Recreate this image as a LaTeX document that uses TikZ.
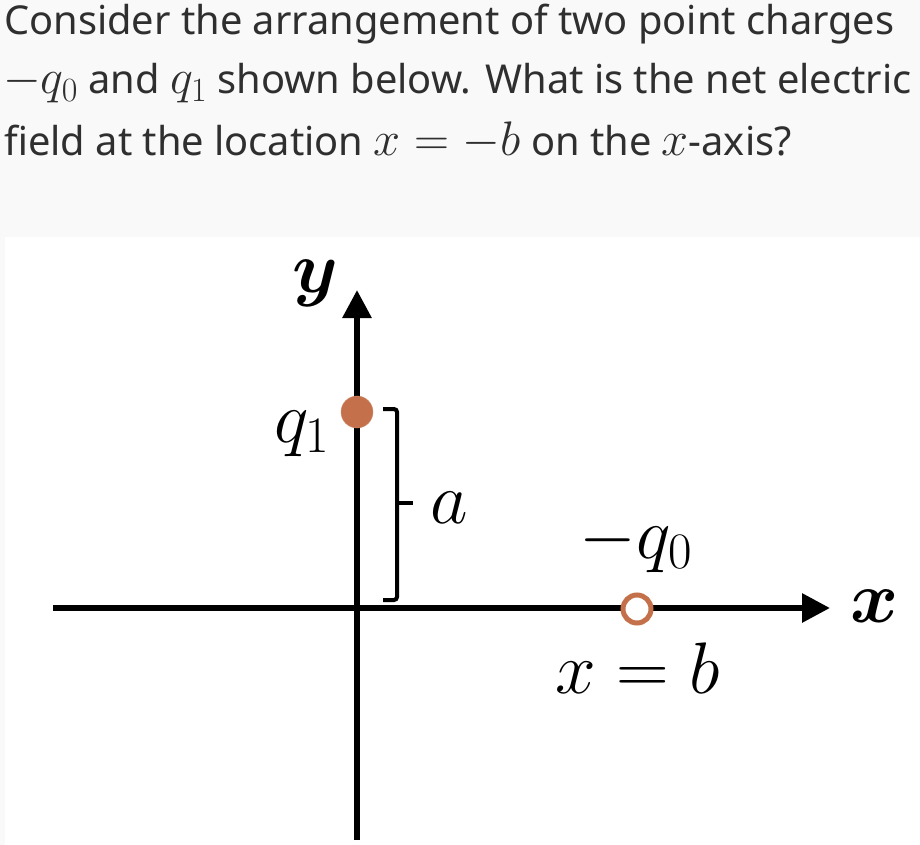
\RequirePackage{fix-cm}
\documentclass[tikz,border=0pt]{standalone}
\usepackage{fontspec}
\usepackage{amsmath,bm}
\setmainfont{Noto Sans}
\usetikzlibrary{arrows.meta}
\definecolor{pagegray}{HTML}{F9F9F9}
\definecolor{textgray}{HTML}{2F2F2F}
\definecolor{charge}{HTML}{C4714B}
\newcommand{\qmath}[1]{{\fontsize{48.5}{46}\selectfont$#1$}}
\tikzstyle{question} = [anchor=base west, inner sep=0pt, text=textgray, font=\fontsize{39.8}{46}\selectfont]
\tikzstyle{label} = [anchor=base, inner sep=0pt, font=\fontsize{73}{76}\selectfont]
\tikzstyle{axis} = [line width=6pt, -{Triangle[length=28pt,width=28pt]}]
\tikzstyle{bracket} = [line width=4pt, rounded corners=3pt]
\tikzstyle{fullcharge} = [circle, fill=charge, draw=charge!80!white, minimum size=32pt, inner sep=0pt]
\tikzstyle{opencharge} = [circle, fill=white, draw=charge, line width=5pt, minimum size=28pt, inner sep=0pt]

\begin{document}
\begin{tikzpicture}[x=1pt,y=-1pt]

\useasboundingbox (0,0) rectangle (920,845);
\fill [pagegray] (0,0) rectangle (920,845);
\fill [white] (5,237) rectangle (920,845);

\node (line1) [question] at (4,35) {Consider the arrangement of two point charges};
\node (line2) [question] at (3,94) {\qmath{-q_0} and \qmath{q_1} shown below. What is the net electric};
\node (line3) [question] at (4,156) {field at the location \qmath{x=-b} on the \qmath{x}-axis?};

\coordinate (origin) at (357,608);
\coordinate (xstart) at (53,608);
\coordinate (xend) at (830,608);
\coordinate (ystart) at (357,840);
\coordinate (yend) at (357,290);

\draw [axis] (xstart) -- (xend);
\draw [axis] (ystart) -- (yend);

\node (q1) [fullcharge] at (357,412) {};
\node (q0) [opencharge] at (637,609) {};

\coordinate (btop) at (383,409);
\coordinate (bbot) at (383,600);
\draw [bracket] (btop) -- (397,409) -- (397,600) -- (bbot);
\draw [line width=4pt] (397,503) -- (413,503);

\node (ylabel) [label] at (315,292) {$\bm{y}$};
\node (xlabel) [label] at (875,622) {$\bm{x}$};
\node (q1label) [label] at (302,442) {$q_1$};
\node (alabel) [label] at (449,523) {$a$};
\node (q0label) [label] at (636,558) {$-q_0$};
\node (blabel) [label] at (638,693) {$x=b$};

\end{tikzpicture}
\end{document}
